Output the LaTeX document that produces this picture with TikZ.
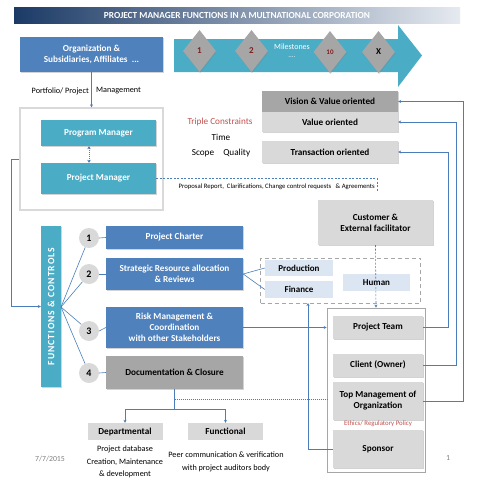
\documentclass[tikz,border=0pt]{standalone}
\usepackage{fontspec}
\setmainfont{Carlito}
\usetikzlibrary{shapes.geometric,arrows.meta,shadows}

\definecolor{pmblue}{HTML}{4F81BD}
\definecolor{pmteal}{HTML}{4BACC6}
\definecolor{pmgrey}{HTML}{A6A6A6}
\definecolor{pmlight}{HTML}{D9D9D9}
\definecolor{pmpale}{HTML}{DCE6F2}
\definecolor{pmred}{HTML}{C0504D}
\definecolor{pmdark}{HTML}{7F1F1F}
\definecolor{pmnavy}{HTML}{1B3A66}
\definecolor{pmmid}{HTML}{6384B0}
\definecolor{pmfade}{HTML}{E6EAF0}
\definecolor{pmline}{HTML}{4A7EBB}

\newcommand{\setfs}[2]{\fontsize{#1}{#2}\selectfont}

\tikzset{
  wh/.style 2 args={minimum width=#1pt, minimum height=#2pt},
  box/.style={inner sep=0pt, align=center,
    drop shadow={opacity=0.35, shadow xshift=0.6pt, shadow yshift=-1.4pt}},
  bluebox/.style={box, fill=pmblue, text=white, font=\setfs{9.2}{11}\bfseries},
  tealbox/.style={box, fill=pmteal, text=white, font=\setfs{9.2}{11}\bfseries},
  greybox/.style={box, fill=pmlight, font=\setfs{9.2}{11}\bfseries},
  darkbox/.style={box, fill=pmgrey, font=\setfs{9.2}{11}\bfseries},
  palebox/.style={inner sep=0pt, fill=pmpale, font=\setfs{9}{10}\bfseries},
  mstone/.style={diamond, inner sep=0pt, fill=pmgrey, wh={33}{42},
    font=\setfs{9}{10}\bfseries,
    drop shadow={opacity=0.3, shadow xshift=0.6pt, shadow yshift=-1.2pt}},
  numcircle/.style={circle, inner sep=0pt, fill=pmlight, minimum size=20pt,
    font=\setfs{10}{11}\bfseries},
  smalltext/.style={inner sep=0pt, align=center, font=\setfs{8.2}{12.5}},
  link/.style={draw=pmline, line width=0.6pt},
  tip/.style={-{Stealth[length=3pt,width=3pt]}},
  dashlink/.style={draw=pmline, line width=0.6pt, dash pattern=on 2pt off 1.5pt},
}

\begin{document}
\begin{tikzpicture}[x=1pt,y=-1pt]
  \useasboundingbox (0,0) rectangle (480,480);
  % title bar
  \shade[left color=pmnavy, middle color=pmmid, right color=pmfade] (14,7) rectangle (460,23);
  \node[text=white, font=\setfs{9.3}{10}\bfseries] (title) at (237,15.5)
    {PROJECT MANAGER FUNCTIONS IN A MULTNATIONAL CORPORATION};

  % milestones arrow
  \fill[pmteal] (174,39) -- (398,39) -- (398,25) -- (422,55.5) -- (398,87)
    -- (398,72) -- (174,72) -- cycle;
  \node[mstone, text=pmdark] (m1) at (199.5,51) {1};
  \node[mstone, text=pmdark] (m2) at (251.5,51) {2};
  \node[mstone, text=pmdark, font=\setfs{7}{8}\bfseries] (m10) at (330,52) {10};
  \node[mstone] (mx) at (378.5,52) {X};
  \node[text=white, font=\setfs{8}{9}] (mlbl) at (292,47) {Milestones};
  \node[text=white, font=\setfs{7}{8}] (mdots) at (292,57) {....};

  % organization and managers
  \node[bluebox, wh={143}{35}] (org) at (91.5,54.5) {Organization \&\\Subsidiaries, Affiliates \ ...};
  \node[box, wh={143}{102}, fill=white, draw=pmlight, line width=1.4pt] (pmframe) at (91.5,159) {};
  \node[tealbox, wh={115}{26}] (prog) at (98.5,133) {Program Manager};
  \node[tealbox, wh={115}{31}] (proj) at (98.5,178.5) {Project Manager};
  \draw[link, tip] (org.south) -- (pmframe.north);
  \node[smalltext, anchor=east] (portlbl) at (89,91) {Portfolio/ Project};
  \node[smalltext, anchor=west] (mgmtlbl) at (96,91) {Management};
  \draw[dashlink, dash pattern=on 1pt off 1pt,
    {Stealth[length=3pt,width=3.5pt]}-{Stealth[length=3pt,width=3.5pt]}]
    ([xshift=-9.5pt]prog.south) -- ([xshift=-9.5pt]proj.north);

  % triple constraints
  \node[text=pmred, font=\setfs{9.2}{10}] (tclbl) at (220,122) {Triple Constraints};
  \node[font=\setfs{9.2}{10}] (time) at (221,137.5) {Time};
  \node[font=\setfs{9.2}{10}] (scope) at (221,153) {Scope\quad Quality};

  % orientation boxes
  \node[darkbox, wh={136}{21}] (vision) at (330,101.5) {Vision \& Value oriented};
  \node[greybox, wh={136}{20}] (value) at (330,122) {Value oriented};
  \node[greybox, wh={136}{22}] (trans) at (330,152) {Transaction oriented};

  % proposal line
  \coordinate (propend) at (377,192);
  \draw[dashlink] (proj.east) -| (propend);
  \node[smalltext, anchor=east, font=\setfs{6.7}{7}] (proplbl) at (375,187)
    {Proposal Report,\ \ Clarifications, Change control requests\ \ \ \& Agreements};

  % customer and resources
  \node[greybox, wh={115}{45}] (cust) at (375.5,222.5) {Customer \&\\External facilitator};
  \node[draw=pmgrey, dash pattern=on 4pt off 3pt, line width=0.9pt, wh={160}{45}] (resbox) at (340.5,280.5) {};
  \node[palebox, wh={68}{16}] (prod) at (299,268) {Production};
  \node[palebox, wh={68}{17}] (fin) at (299,289.5) {Finance};
  \node[palebox, wh={67}{17}] (hum) at (376.5,282.5) {Human};

  % stakeholders
  \node[draw=pmgrey, fill=white, line width=0.6pt, wh={98}{164}] (teamframe) at (376,390) {};
  \node[greybox, wh={90}{23}] (team) at (378,327.5) {Project Team};
  \node[greybox, wh={90}{23}] (client) at (378,365) {Client (Owner)};
  \node[greybox, wh={90}{38}] (topm) at (378,401) {Top Management of\\Organization};
  \node[text=pmred, font=\setfs{6.8}{7}] (ethics) at (378,423.5) {Ethics/ Regulatory Policy};
  \node[greybox, wh={90}{38}] (sponsor) at (378,449) {Sponsor};
  \draw[dashlink, tip] (cust.south) -- (teamframe.north);

  % functions and controls
  \node[box, fill=pmteal, wh={20}{161}] (funcbar) at (51,306.5) {};
  \node[rotate=90, inner sep=0pt, text=white,
    font=\setfs{9.6}{10}\bfseries\addfontfeature{LetterSpace=10}] (funcname) at (funcbar)
    {FUNCTIONS \& CONTROLS};
  \node[numcircle] (c1) at (89,238) {1};
  \node[numcircle] (c2) at (89,274) {2};
  \node[numcircle] (c3) at (89,331) {3};
  \node[numcircle] (c4) at (89,373) {4};
  \node[bluebox, wh={137}{23}] (charter) at (174.5,237.5) {Project Charter};
  \node[bluebox, wh={137}{32}] (strat) at (174.5,274) {Strategic Resource allocation\\\& Reviews};
  \node[bluebox, wh={137}{41}] (risk) at (174.5,327.5) {Risk Management \&\\Coordination\\with other Stakeholders};
  \node[darkbox, wh={137}{33}] (docu) at (174.5,372.5) {Documentation \& Closure};
  \coordinate (fan) at (61,307);
  \foreach \c/\b in {c1/charter, c2/strat, c3/risk, c4/docu} {
    \draw[link] (fan) -- (\c);
    \draw[link] (\c.east) -- (\b.west);
  }
  \draw[link, tip] (pmframe.west) -- ++(-8,0) |- (funcbar.west);

  % documentation outputs
  \node[inner sep=0pt, fill=pmlight, wh={75}{17}, font=\setfs{9.2}{10}\bfseries] (dept) at (125,431.5) {Departmental};
  \node[inner sep=0pt, fill=pmlight, wh={75}{17}, font=\setfs{9.2}{10}\bfseries] (func) at (225.5,431.5) {Functional};
  \node[smalltext, anchor=north] (deptlbl) at (125,446) {Project database\\Creation, Maintenance\\\& development};
  \node[smalltext, anchor=north] (funclbl) at (226,452) {Peer communication \& verification\\with project auditors body};
  \draw[link] (docu.south) -- (174.5,409) coordinate (docsplit);
  \draw[link, tip] (docsplit) -| (dept.north);
  \draw[link, tip] (docsplit) -| (func.north);
  \draw[dashlink, dash pattern=on 1pt off 1pt] (docu.south |- 0,399) -- (teamframe.west |- 0,399);

  % links between groups
  \draw[link] (strat.east) -- (prod.west);
  \draw[link] (strat.east) -- (fin.west);
  \draw[link, tip] (risk.east) -- (risk.east -| teamframe.west);
  \coordinate (finin) at (308,303);
  \draw[link, tip] (sponsor.west) -| (finin);
  \draw[link, tip] (team.east) -- ++(25,0) |- (trans.east);
  \draw[link, tip] (client.east) -- ++(33,0) |- (value.east);
  \draw[link, tip] (topm.east) -- ++(40,0) |- (vision.east);

  % footer
  \node[text=gray, font=\setfs{7.8}{8}] (date) at (50,459) {7/7/2015};
  \node[text=gray, font=\setfs{7.8}{8}] (page) at (448,458) {1};
\end{tikzpicture}
\end{document}
